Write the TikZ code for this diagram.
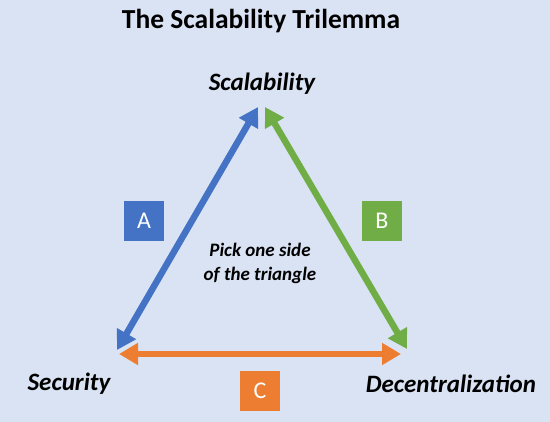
\documentclass[tikz,border=0pt]{standalone}
\usepackage{fontspec}
\setmainfont{Carlito}
\usepackage{xcolor}
\usetikzlibrary{arrows.meta}
\definecolor{bgblue}{HTML}{DAE3F3}
\definecolor{sideA}{HTML}{4472C4}
\definecolor{sideB}{HTML}{70AD47}
\definecolor{sideC}{HTML}{ED7D31}
\begin{document}
\begin{tikzpicture}[x=1pt,y=-1pt]
	\tikzstyle{every node}+=[inner sep=0pt]
	\tikzstyle{side}=[line width=6.5pt, {Triangle[length=19pt,width=21pt]}-{Triangle[length=19pt,width=21pt]}]
	\tikzstyle{sidebox}=[minimum width=40pt, minimum height=40pt, text=white, font=\fontsize{24}{28}\selectfont]
	\tikzstyle{corner}=[font=\fontsize{25}{30}\selectfont\bfseries\itshape]
	\fill [bgblue] (0,0) rectangle (550,422);
	\useasboundingbox (0,0) rectangle (550,422);
	\node (title) at (261,21) {\fontsize{27.5}{32}\selectfont\bfseries The Scalability Trilemma};
	\node [corner] (scal) at (262,84) {Scalability};
	\node [corner] (sec) at (69,384) {Security};
	\node [corner] (dec) at (451,384) {Decentralization};
	\coordinate (aTop) at (258,107);
	\coordinate (aBot) at (117,350);
	\coordinate (bTop) at (265,107);
	\coordinate (bBot) at (407,349);
	\coordinate (cLeft) at (119,354);
	\coordinate (cRight) at (401,354);
	\draw [side, sideA] (aBot) -- (aTop);
	\draw [side, sideB] (bTop) -- (bBot);
	\draw [side, sideC] (cLeft) -- (cRight);
	\node [sidebox, fill=sideA] (boxA) at (144,221) {A};
	\node [sidebox, fill=sideB] (boxB) at (382,221) {B};
	\node [sidebox, fill=sideC] (boxC) at (260,391) {C};
	\node [align=center, font=\fontsize{19}{24}\selectfont\bfseries\itshape] (pick) at (260,263) {Pick one side\\of the triangle};
\end{tikzpicture}
\end{document}
